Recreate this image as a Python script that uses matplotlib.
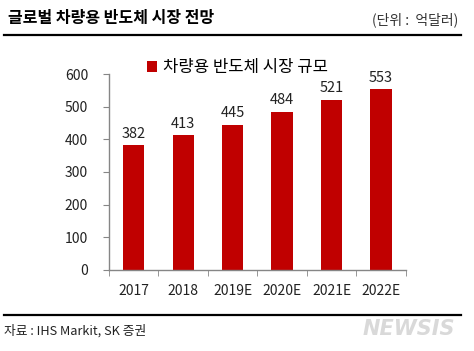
import numpy as np
import matplotlib.pyplot as plt
from matplotlib.lines import Line2D

plt.rcParams['font.family'] = ['Noto Sans CJK KR', 'DejaVu Sans']

# Data
years = ["2017", "2018", "2019E", "2020E", "2021E", "2022E"]
market = [382, 413, 445, 484, 521, 553]
y_ticks = [0, 100, 200, 300, 400, 500, 600]

bar_color = "#C00000"
axis_color = "#868686"

fig = plt.figure(figsize=(4.74, 3.51), dpi=100)
ax = fig.add_axes([0.230, 0.231, 0.626, 0.558])

x = np.arange(len(years))
bars = ax.bar(x, market, width=0.43, color=bar_color, label="차량용 반도체 시장 규모")

for xi, v in zip(x, market):
    ax.text(xi, v + 14, str(v), ha="center", va="bottom", fontsize=10.5, color="#222222")

ax.set_xlim(-0.5, len(years) - 0.5)
ax.set_ylim(0, 600)
ax.set_yticks(y_ticks)
ax.set_xticks(x)
ax.set_xticklabels(years)
ax.set_xticks(np.arange(len(years) + 1) - 0.5, minor=True)
ax.tick_params(axis="x", which="major", length=0, pad=10, labelsize=10, labelcolor="#222222")
ax.tick_params(axis="x", which="minor", length=4, direction="out", color=axis_color)
ax.tick_params(axis="y", length=4, direction="out", color=axis_color, pad=11,
               labelsize=10, labelcolor="#222222")

for s in ["top", "right"]:
    ax.spines[s].set_visible(False)
for s in ["left", "bottom"]:
    ax.spines[s].set_color(axis_color)
    ax.spines[s].set_linewidth(1.0)

ax.legend(loc="upper left", bbox_to_anchor=(0.105, 1.11), frameon=False, fontsize=12,
          handlelength=0.6, handleheight=0.6, handletextpad=0.35, borderaxespad=0)

# Header and footer
fig.text(0.017, 0.948, "글로벌 차량용 반도체 시장 전망", fontsize=11.5, fontweight="bold",
         ha="left", va="center")
fig.text(0.966, 0.943, "(단위 :  억달러)", fontsize=10, ha="right", va="center", color="#333333")
fig.add_artist(Line2D([0.008, 0.972], [0.900, 0.900], color="black", lw=1.6))
fig.add_artist(Line2D([0.008, 0.972], [0.103, 0.103], color="black", lw=1.6))
fig.text(0.008, 0.058, "자료 : IHS Markit, SK 증권", fontsize=9.2, ha="left", va="center",
         color="#222222")
fig.text(0.96, 0.062, "NEWSIS", fontsize=15, fontweight="bold", style="italic",
         ha="right", va="center", color="#d9d9d9", family="DejaVu Sans")

fig.savefig("out.png", dpi=100)
